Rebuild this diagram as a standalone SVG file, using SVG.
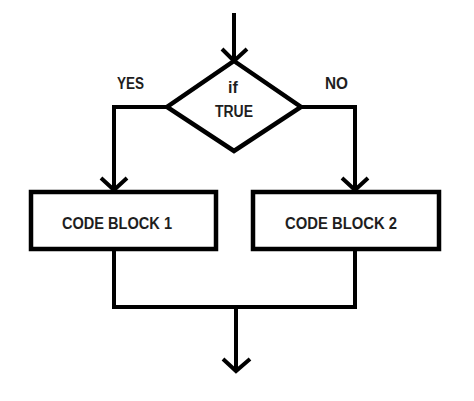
<svg xmlns="http://www.w3.org/2000/svg" width="474" height="401" viewBox="0 0 474 401">
<style>
.ln{fill:none;stroke:#000;stroke-width:4;stroke-linejoin:miter;stroke-linecap:butt}
.hd{fill:none;stroke:#000;stroke-width:4;stroke-linejoin:miter}
.box{fill:#fff;stroke:#000;stroke-width:4.5}
.t{font-family:"Liberation Sans",Arial,sans-serif;font-weight:bold;fill:#1e1e1e;font-size:16px}
.b{font-size:17px}
</style>
<rect width="474" height="401" fill="#fff"/>
<g id="connectors">
<polyline class="ln" points="234,13 234,60"/>
<polyline class="hd" points="222,49 234,61 247,49"/>
<polyline class="ln" points="167,107 114,107 114,190"/>
<polyline class="hd" points="101,178 114,190 127,178"/>
<polyline class="ln" points="301,107 355,107 355,190"/>
<polyline class="hd" points="342,178 355,190 368,178"/>
<polyline class="ln" points="114,249 114,307 355,307 355,249"/>
<polyline class="ln" points="236,307 236,370"/>
<polyline class="hd" points="223,359 236,371 250,359"/>
<text class="t" x="117" y="89" textLength="27" lengthAdjust="spacingAndGlyphs">YES</text>
<text class="t" x="325" y="89" textLength="23" lengthAdjust="spacingAndGlyphs">NO</text>
</g>
<g id="decision">
<polygon class="box" points="234,61 301,107 234,151 167,107"/>
<text class="t" x="233" y="93" text-anchor="middle">if</text>
<text class="t" x="234" y="117" text-anchor="middle" textLength="38" lengthAdjust="spacingAndGlyphs">TRUE</text>
</g>
<g id="block1">
<rect class="box" x="31" y="192" width="185" height="57"/>
<text class="t b" x="62" y="229" textLength="110" lengthAdjust="spacingAndGlyphs">CODE BLOCK 1</text>
</g>
<g id="block2">
<rect class="box" x="253" y="192" width="186" height="57"/>
<text class="t b" x="285" y="229" textLength="112" lengthAdjust="spacingAndGlyphs">CODE BLOCK 2</text>
</g>
</svg>
